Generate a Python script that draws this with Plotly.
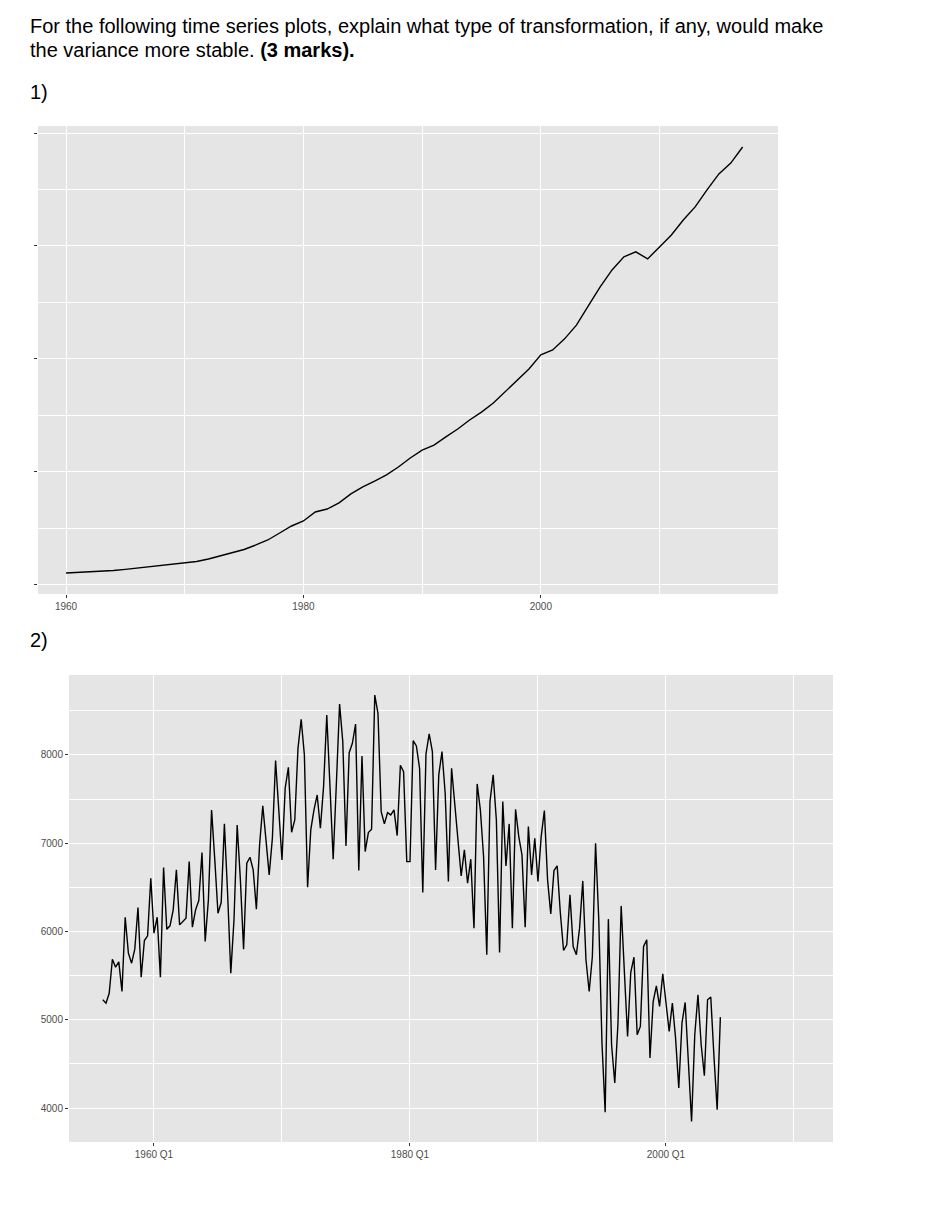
import plotly.graph_objects as go

years1 = list(range(1960, 2018))
vals1 = [53, 55, 58, 62, 64, 69, 75, 80, 86, 93, 97, 104, 115, 128, 142, 157, 177, 199, 230, 261, 283, 323, 336, 363, 403, 434, 460, 487, 522, 562, 597, 619, 655, 690, 730, 765, 805, 854, 903, 956, 1018, 1040, 1089, 1150, 1235, 1319, 1394, 1452, 1474, 1443, 1496, 1549, 1615, 1673, 1748, 1819, 1867, 1938]

q_start = 1956
vals2 = [5226, 5188, 5300, 5686, 5596, 5656, 5320, 6162, 5755, 5641, 5800, 6272, 5483, 5898, 5951, 6604,
         5981, 6162, 5483, 6724, 6026, 6064, 6245, 6698, 6075, 6113, 6151, 6792, 6049, 6245, 6351, 6894,
         5887, 6358, 7377, 6811, 6207, 6328, 7219, 6434, 5528, 6132, 7207, 6585, 5800, 6773, 6841, 6698,
         6253, 6981, 7423, 7038, 6641, 7057, 7936, 7377, 6811, 7623, 7860, 7124, 7264, 8075, 8404, 8000,
         6502, 7151, 7377, 7547, 7170, 7641, 8453, 7641, 6819, 7679, 8577, 8151, 6970, 8026, 8132, 8351,
         6690, 7989, 6906, 7121, 7158, 8679, 8472, 7358, 7219, 7347, 7321, 7377, 7087, 7883, 7811, 6792,
         6792, 8162, 8102, 7849, 6441, 8011, 8238, 8038, 6698, 7774, 8038, 7566, 6566, 7849, 7415, 6962,
         6630, 6924, 6547, 6819, 6038, 7672, 7377, 6849, 5736, 7472, 7774, 7264, 5762, 7472, 6743, 7219,
         6038, 7385, 7075, 6868, 6049, 7189, 6641, 7057, 6566, 7075, 7370, 6585, 6200, 6690, 6743, 6207,
         5785, 5849, 6415, 5830, 5736, 6038, 6573, 5679, 5320, 5717, 7000, 6132, 4736, 3951, 6140, 4717,
         4283, 4962, 6290, 5547, 4811, 5536, 5709, 4830, 4924, 5830, 5905, 4566, 5207, 5385, 5151, 5521,
         5226, 4868, 5188, 4792, 4226, 4962, 5196, 4547, 3849, 4830, 5283, 4717, 4366, 5226, 5257, 4585,
         3981, 5030]
x2 = [q_start + i / 4 for i in range(len(vals2))]
ticks2 = [1960, 1980, 2000]
ticklabels2 = ["1960 Q1", "1980 Q1", "2000 Q1"]

W, H, OFF = 926, 1216, 8
def px(x): return (x - OFF) / W
def py(y): return 1 - (y - OFF) / H

fig = go.Figure()
fig.add_trace(go.Scatter(x=years1, y=vals1, mode="lines", line=dict(color="black", width=1.4),
                         xaxis="x", yaxis="y", showlegend=False))
fig.add_trace(go.Scatter(x=x2, y=vals2, mode="lines", line=dict(color="black", width=1.4),
                         xaxis="x2", yaxis="y2", showlegend=False))

grid = dict(showgrid=True, gridcolor="white", gridwidth=1.2, zeroline=False, showline=False,
            ticks="outside", ticklen=3, tickcolor="#333333", tickwidth=1,
            tickfont=dict(family="Liberation Sans, Arial", size=10, color="#4d4d4d"))
minor = dict(showgrid=True, gridcolor="white", gridwidth=0.5, ticks="")

fig.update_layout(
    width=W, height=H, margin=dict(l=0, r=0, t=0, b=0),
    paper_bgcolor="white", plot_bgcolor="#e5e5e5",
    xaxis=dict(domain=[px(38), px(778)], anchor="y", range=[1957.64, 2019.98],
               tickvals=[1960, 1980, 2000], minor=dict(tickvals=[1970, 1990, 2010], **minor), **grid),
    yaxis=dict(domain=[py(594), py(126)], anchor="x", range=[-40, 2031],
               tickvals=[0, 500, 1000, 1500, 2000], showticklabels=False,
               minor=dict(tickvals=[250, 750, 1250, 1750], **minor), **grid),
    xaxis2=dict(domain=[px(69), px(833)], anchor="y2", range=[1953.36, 2013.05],
                tickvals=ticks2, ticktext=ticklabels2, minor=dict(tickvals=[1970, 1990, 2010], **minor), **grid),
    yaxis2=dict(domain=[py(1142), py(675)], anchor="x2", range=[3615, 8906],
                tickvals=[4000, 5000, 6000, 7000, 8000],
                minor=dict(tickvals=[4500, 5500, 6500, 7500, 8500], **minor), **grid),
)

tf = dict(family="Liberation Sans, Arial", size=20, color="black")
def txt(x, y, s, size=20):
    fig.add_annotation(x=px(x), y=py(y), xref="paper", yref="paper", text=s, showarrow=False,
                       xanchor="left", yanchor="middle", font=dict(tf, size=size))

txt(28, 26, "For the following time series plots, explain what type of transformation, if any, would make")
txt(28, 50, "the variance more stable. <b>(3 marks).</b>")
txt(28, 92, "1)")
txt(28, 640, "2)")

fig.write_html("out.html")
